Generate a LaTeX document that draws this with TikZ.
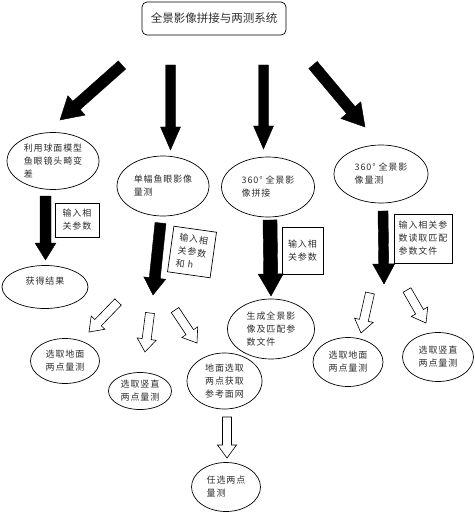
\documentclass[tikz,border=0pt]{standalone}
\usepackage{fontspec}
\setmainfont{Noto Sans CJK SC}
\usetikzlibrary{calc, shapes.geometric}
\definecolor{inkGray}{RGB}{45,45,45}

% block arrow: style, from, to, half shaft, half head, head length
\newcommand{\fatarrow}[6]{%
  \coordinate (fab) at ($(#3)!#6!(#2)$);
  \draw[#1] ($(#2)!#4!90:(#3)$) -- ($(fab)!#4!90:(#3)$) -- ($(fab)!#5!90:(#3)$) -- (#3)
    -- ($(fab)!#5!-90:(#3)$) -- ($(fab)!#4!-90:(#3)$) -- ($(#2)!#4!-90:(#3)$) -- cycle;
}

\tikzset{
  titlebox/.style={draw, rounded corners=5pt, minimum width=144pt, minimum height=33pt,
    font=\fontsize{11.5}{14}\selectfont, text=inkGray, line width=0.7pt},
  oval/.style={draw, ellipse, inner sep=0pt, align=left, line width=0.7pt,
    font=\fontsize{9}{13}\selectfont\addfontfeature{LetterSpace=10}, text=inkGray},
  parambox/.style={draw, inner sep=0pt, align=left, line width=0.7pt,
    font=\fontsize{9}{13}\selectfont\addfontfeature{LetterSpace=10}, text=inkGray},
  solidarrow/.style={fill=black, draw=black, line width=0.4pt},
  hollowarrow/.style={fill=white, draw=black, line width=0.6pt}
}

\begin{document}
\begin{tikzpicture}[x=1pt, y=-1pt]
  \useasboundingbox (0,0) rectangle (474,513);

  \node[titlebox] (title) at (214,18.5) {全景影像拼接与两测系统};

  % first level
  \node[oval, minimum width=92pt, minimum height=57pt] (sphere) at (53,161) {利用球面模型\\鱼眼镜头畸变\\差};
  \node[oval, minimum width=92pt, minimum height=60pt] (single) at (163,186) {单幅鱼眼影像\\量测};
  \node[oval, minimum width=93pt, minimum height=60pt] (stitch) at (268,187) {360° 全景影\\像拼接};
  \node[oval, minimum width=94pt, minimum height=58pt] (panomeas) at (381,174) {360° 全景影\\像量测};

  % parameter boxes
  \node[parambox, minimum width=44pt, minimum height=34pt] (paramA) at (77,220) {输入相\\关参数};
  \node[parambox, minimum width=43pt, minimum height=46pt, rotate=-8] (paramB) at (192,252) {输入相\\关参数\\和 h};
  \node[parambox, minimum width=41pt, minimum height=47pt] (paramC) at (302.5,251) {输入相\\关参数};
  \node[parambox, minimum width=58pt, minimum height=49pt] (paramD) at (423,238.5) {输入相关参\\数读取匹配\\参数文件};

  % second level
  \node[oval, minimum width=86pt, minimum height=43pt] (result) at (45,287) {获得结果\\\mbox{}};
  \node[oval, minimum width=87pt, minimum height=60pt] (panofile) at (271,329) {生成全景影\\像及匹配参\\数文件};
  \node[oval, minimum width=69pt, minimum height=45pt] (groundL) at (65,361) {选取地面\\两点量测};
  \node[oval, minimum width=63pt, minimum height=37pt] (vertL) at (140,391) {选取竖直\\两点量测};
  \node[oval, minimum width=75pt, minimum height=56pt] (refnet) at (224.5,381) {地面选取\\两点获取\\参考面网};
  \node[oval, minimum width=70pt, minimum height=49pt] (groundR) at (348,362) {选取地面\\两点量测};
  \node[oval, minimum width=71pt, minimum height=49pt] (vertR) at (438,357) {选取竖直\\两点量测};
  \node[oval, minimum width=69pt, minimum height=49pt] (anytwo) at (226,487) {任选两点\\量测};

  % arrow ends
  \coordinate (t1) at (122,65);   \coordinate (t1e) at (60,120);
  \coordinate (t2) at (170.5,65); \coordinate (t2e) at (170.5,150);
  \coordinate (t3) at (263.5,65); \coordinate (t3e) at (263.5,149);
  \coordinate (t4) at (313,65);   \coordinate (t4e) at (365,127);
  \coordinate (s1) at (45.5,196); \coordinate (s1e) at (45.5,260);
  \coordinate (s2) at (160.5,223); \coordinate (s2e) at (153,295);
  \coordinate (s3) at (270,220);  \coordinate (s3e) at (271,296);
  \coordinate (s4) at (383,211);  \coordinate (s4e) at (384,284);
  \coordinate (h1) at (118,302);  \coordinate (h1e) at (89,332);
  \coordinate (h2) at (150,313);  \coordinate (h2e) at (145,352);
  \coordinate (h3) at (175,310);  \coordinate (h3e) at (197,343);
  \coordinate (h4) at (370,293);  \coordinate (h4e) at (361,333);
  \coordinate (h5) at (407,290);  \coordinate (h5e) at (426,323);
  \coordinate (h6) at (227,417);  \coordinate (h6e) at (227,458);

  \fatarrow{solidarrow}{t1}{t1e}{5.5pt}{13pt}{22pt}
  \fatarrow{solidarrow}{t2}{t2e}{4.8pt}{10pt}{23pt}
  \fatarrow{solidarrow}{t3}{t3e}{4.8pt}{10pt}{23pt}
  \fatarrow{solidarrow}{t4}{t4e}{5.5pt}{13pt}{22pt}

  \fatarrow{solidarrow}{s1}{s1e}{5.5pt}{10.5pt}{17pt}
  \fatarrow{solidarrow}{s2}{s2e}{5.5pt}{11pt}{17pt}
  \fatarrow{solidarrow}{s3}{s3e}{7pt}{12.5pt}{22pt}
  \fatarrow{solidarrow}{s4}{s4e}{5pt}{11pt}{20pt}

  \foreach \h in {h1,h2,h3,h4,h5,h6}{
    \fatarrow{hollowarrow}{\h}{\h e}{4.5pt}{9.5pt}{13pt}
  }
\end{tikzpicture}
\end{document}
